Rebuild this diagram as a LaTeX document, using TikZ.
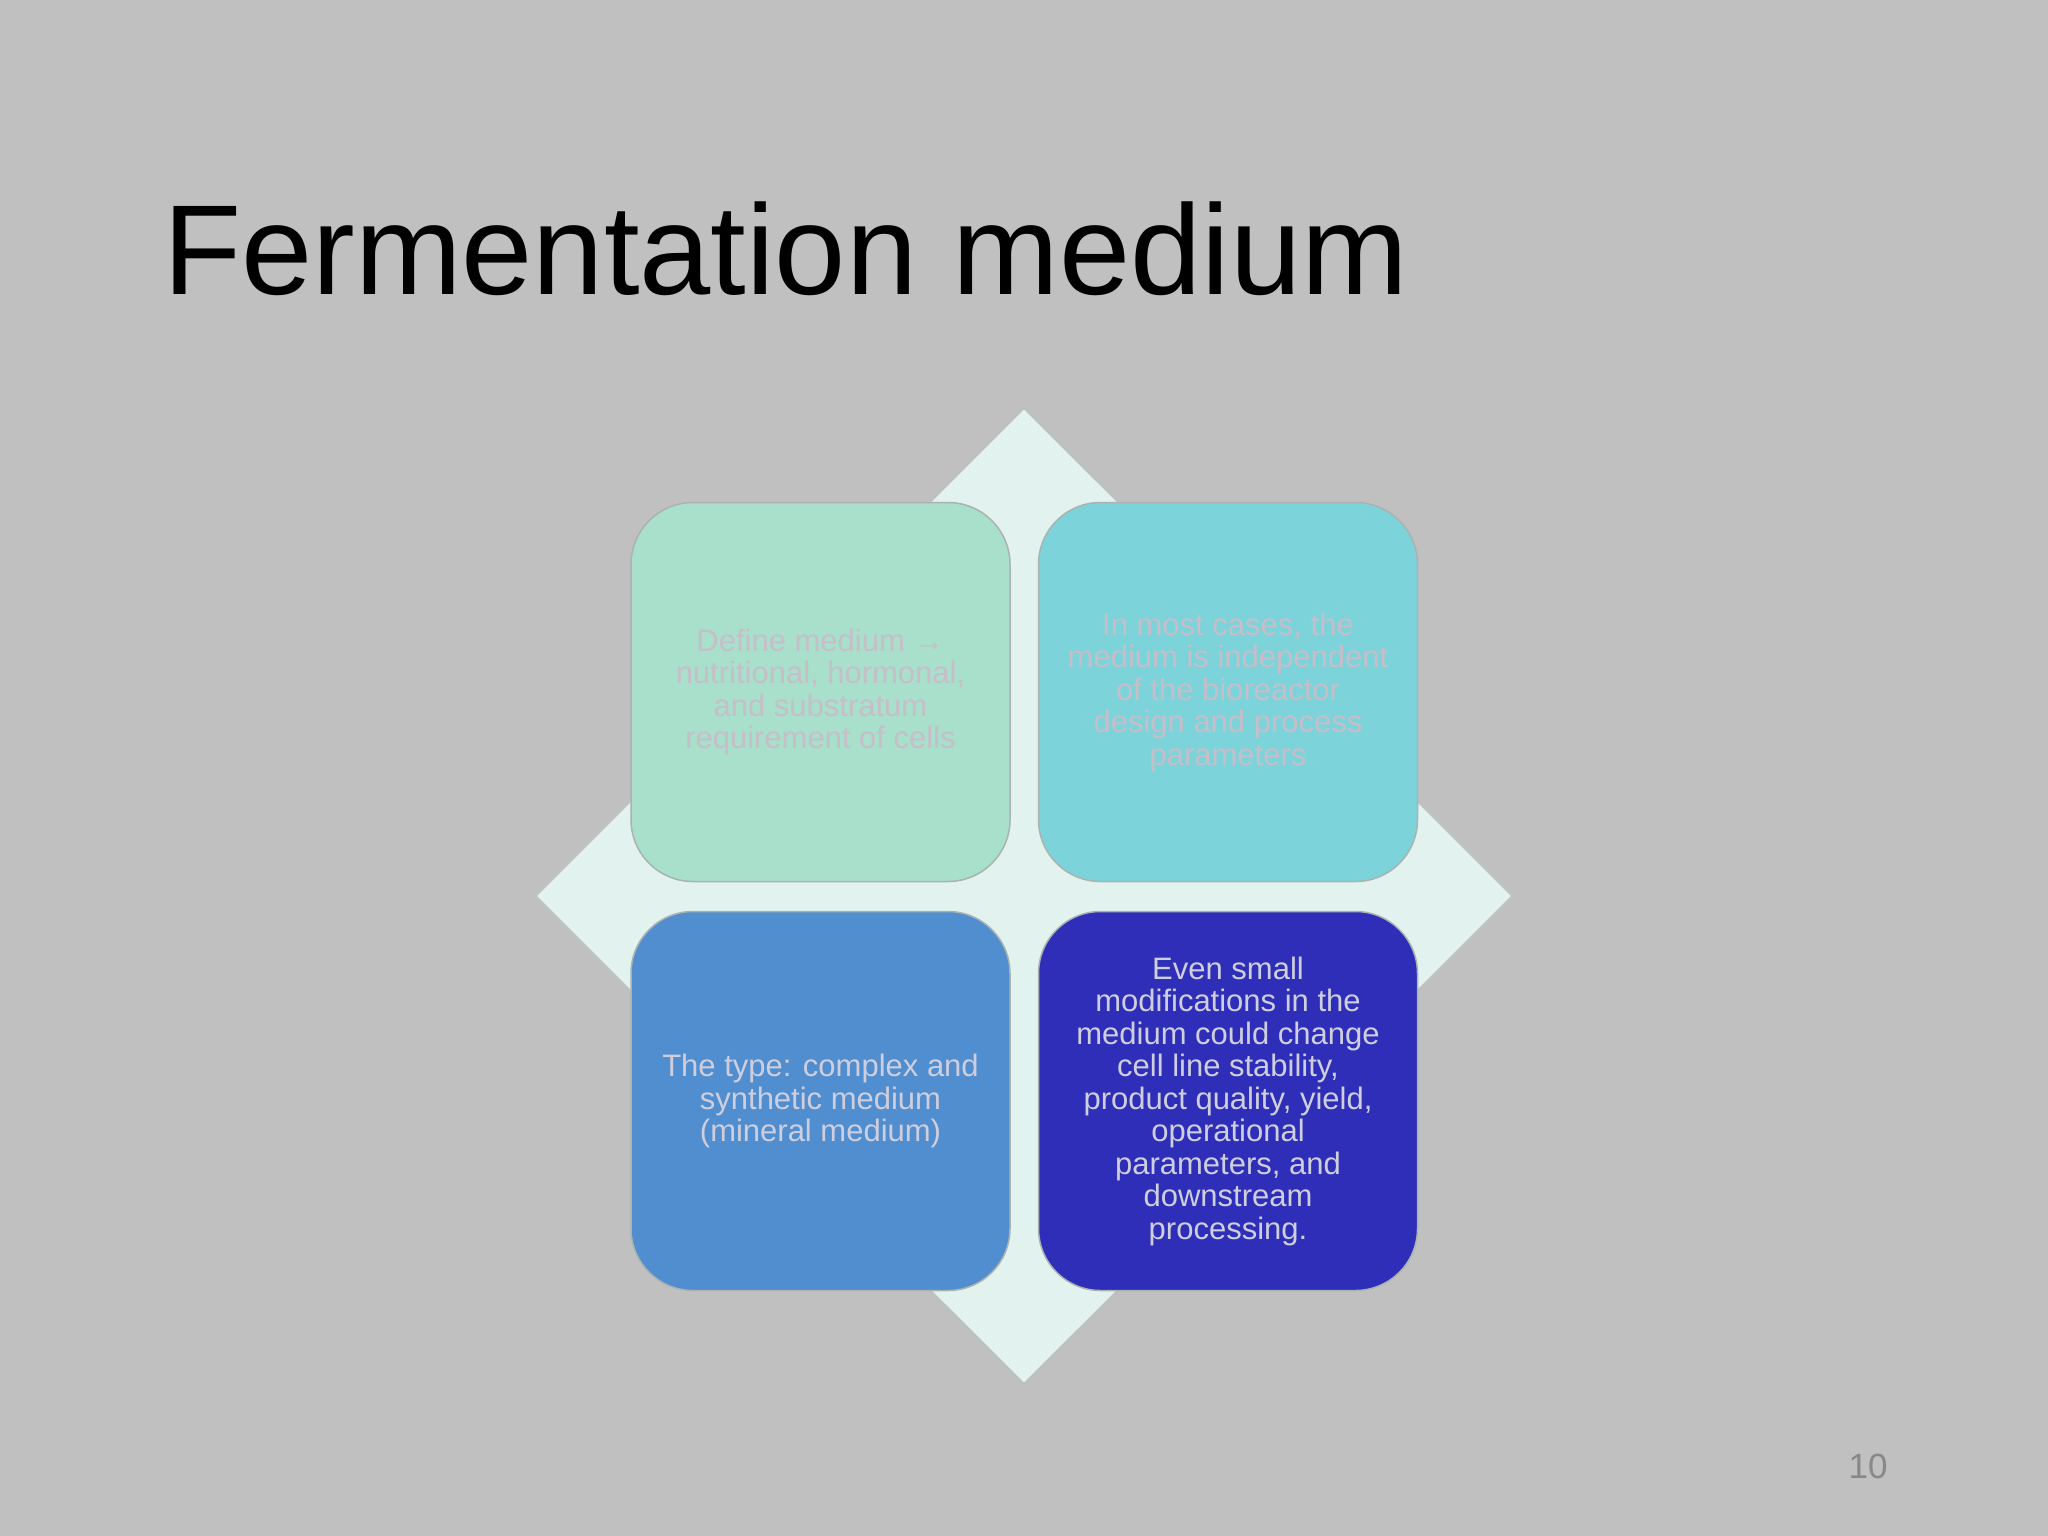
\documentclass[tikz,border=0pt]{standalone}
\usepackage{fontspec}
\setmainfont{Liberation Sans}
\usetikzlibrary{shapes.geometric,positioning}
\definecolor{slidebg}{RGB}{192,192,192}
\definecolor{diamondfill}{RGB}{226,242,238}
\definecolor{mintbox}{RGB}{168,224,204}
\definecolor{aquabox}{RGB}{125,211,218}
\definecolor{skybox}{RGB}{80,142,207}
\definecolor{navybox}{RGB}{46,46,184}
\definecolor{boxedge}{RGB}{170,178,178}
\definecolor{fainttext}{RGB}{198,190,200}
\definecolor{paletext}{RGB}{206,206,222}
\definecolor{pagegrey}{RGB}{136,136,136}

\begin{document}
\begin{tikzpicture}[x=1pt,y=-1pt,
  quadbox/.style={draw=boxedge,line width=1.5pt,rounded corners=62pt,minimum width=379pt,minimum height=379pt,inner sep=0pt,align=center,font=\fontsize{31}{32.5}\selectfont}]
\useasboundingbox (0,0) rectangle (2048,1536);
\fill[slidebg] (0,0) rectangle (2048,1536);
\node[anchor=base west,inner sep=0pt,font=\fontsize{128}{150}\selectfont] (title) at (163,294) {Fermentation medium};
\node[diamond,fill=diamondfill,minimum width=974pt,minimum height=973pt,inner sep=0pt] (back) at (1024,896) {};
\node[quadbox,fill=mintbox,text=fainttext] (define) at (820.5,692) {Define medium →\\nutritional, hormonal,\\and substratum\\requirement of cells};
\node[quadbox,fill=aquabox,text=fainttext] (independent) at (1228,692) {In most cases, the\\medium is independent\\of the bioreactor\\design and process\\parameters};
\node[quadbox,fill=skybox,text=paletext] (type) at (820.5,1101) {The type: complex and\\synthetic medium\\(mineral medium)};
\node[quadbox,fill=navybox,text=paletext] (changes) at (1228,1101) {Even small\\modifications in the\\medium could change\\cell line stability,\\product quality, yield,\\operational\\parameters, and\\downstream\\processing.};
\node[anchor=base,inner sep=0pt,text=pagegrey,font=\fontsize{35}{40}\selectfont] (pagenum) at (1868,1478) {10};
\end{tikzpicture}
\end{document}
